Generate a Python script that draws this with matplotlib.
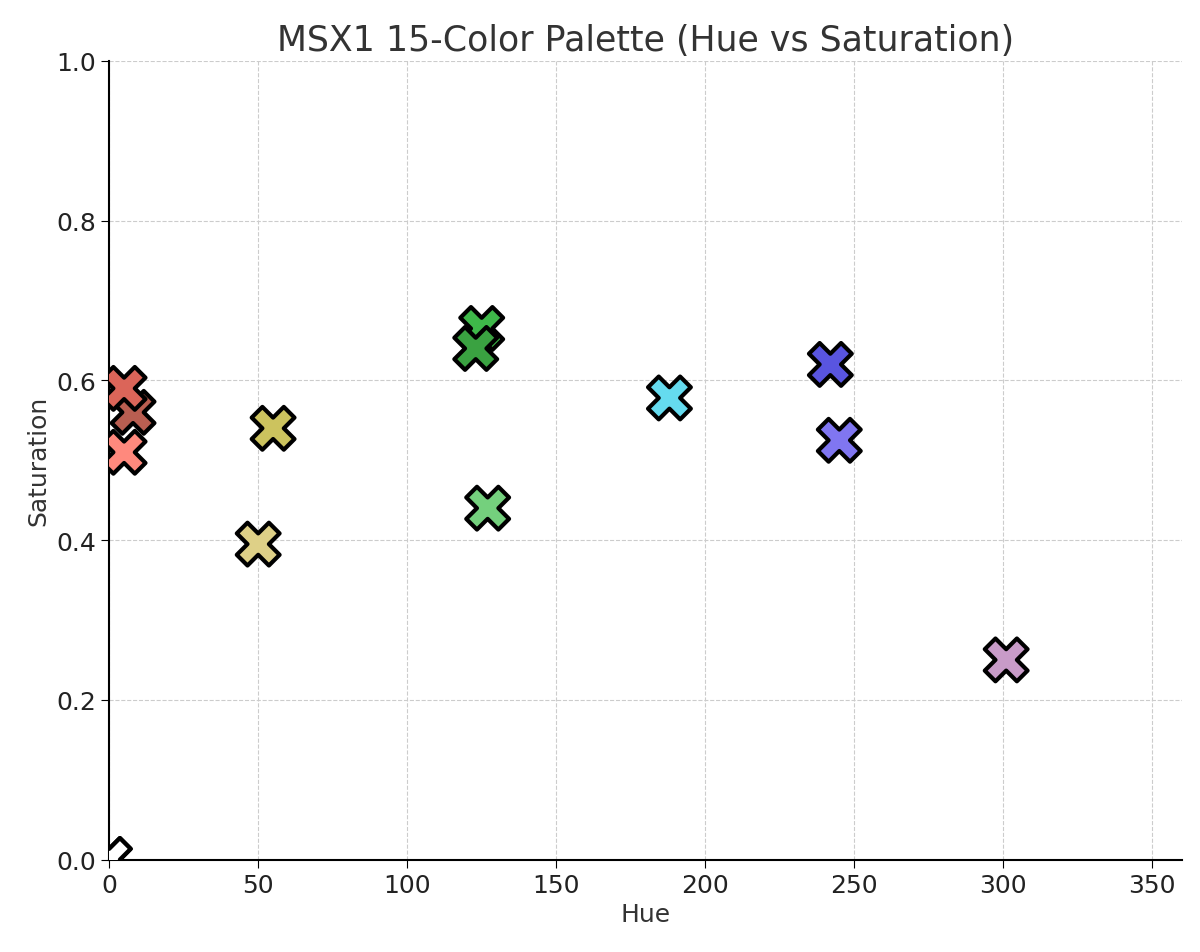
import matplotlib
matplotlib.use("Agg")
import matplotlib.pyplot as plt

names = ["Black","Medium Green","Light Green","Dark Blue","Light Blue","Dark Red","Cyan",
         "Medium Red","Light Red","Dark Yellow","Light Yellow","Dark Green","Magenta","Gray","White"]
hues = [0,125,127,242,245,8,188,5,5,55,50,123,301,0,0]
sats = [0,0.665,0.44,0.62,0.525,0.56,0.578,0.59,0.51,0.54,0.395,0.64,0.25,0,0]
colors = ["#000000","#3EB849","#74D07D","#5955E0","#8076F1","#B95E51","#65DBEF",
          "#DB6559","#FF897D","#CCC35E","#DED087","#3AA241","#C89BC8","#CCCCCC","#FFFFFF"]

fig, ax = plt.subplots(figsize=(12, 9.53), dpi=100)
ax.scatter(hues, sats, c=colors, marker="X", s=950, edgecolors="black", linewidths=3, zorder=3)
ax.set_xlim(0, 360)
ax.set_ylim(0, 1)
ax.set_title("MSX1 15-Color Palette (Hue vs Saturation)", fontsize=25, color="#333333", pad=8)
ax.set_xlabel("Hue", fontsize=18, color="#333333")
ax.set_ylabel("Saturation", fontsize=18, color="#333333")
ax.tick_params(labelsize=18, length=6, labelcolor="#222222")
ax.grid(True, linestyle="--", color="#cccccc", linewidth=0.8)
ax.spines["top"].set_visible(False)
ax.spines["right"].set_visible(False)
ax.spines["left"].set_linewidth(1.5)
ax.spines["bottom"].set_linewidth(1.5)
fig.subplots_adjust(left=0.091, right=0.985, top=0.935, bottom=0.097)
fig.savefig("out.png")
